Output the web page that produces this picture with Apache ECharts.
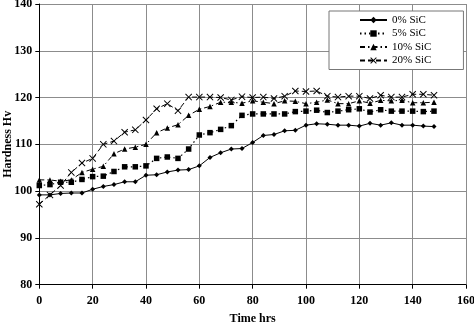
<!DOCTYPE html>
<html><head><meta charset="utf-8">
<script src="https://cdn.jsdelivr.net/npm/echarts@6/dist/echarts.min.js"></script>
<style>html,body{margin:0;padding:0;background:#fff}#c{width:474px;height:322px}</style>
</head><body><div id="c"></div>
<script>
var times = [0,4,8,12,16,20,24,28,32,36,40,44,48,52,56,60,64,68,72,76,80,84,88,92,96,100,104,108,112,116,120,124,128,132,136,140,144,148];
var hv0 = [99.2,99.2,99.5,99.6,99.6,100.4,101.0,101.4,102.0,102.0,103.4,103.5,104.1,104.5,104.6,105.4,107.2,108.2,109.0,109.1,110.4,111.9,112.1,112.9,113.0,114.1,114.4,114.3,114.1,114.1,113.9,114.5,114.1,114.6,114.1,114.1,113.9,113.8];
var hv5 = [101.2,101.4,101.9,101.9,102.5,103.1,103.2,104.2,105.2,105.2,105.4,107.0,107.3,107.0,109.0,112.0,112.5,113.2,114.0,116.2,116.5,116.5,116.5,116.5,117.0,117.1,117.3,116.8,117.1,117.4,117.6,116.9,117.4,117.1,117.1,117.1,117.0,117.1];
var hv10 = [102.4,102.4,102.1,102.4,104.0,104.7,105.3,108.0,109.0,109.4,110.0,112.5,113.5,114.2,116.2,117.5,118.1,119.0,119.0,118.8,119.3,119.0,118.7,119.3,119.2,118.7,119.0,119.5,118.7,118.7,119.3,118.8,119.4,119.3,119.4,118.9,118.9,119.0];
var hv20 = [97.2,99.2,101.2,104.0,106.0,107.0,110.0,110.7,112.6,113.1,115.2,117.6,118.7,117.2,120.1,120.1,120.1,120.0,119.5,120.2,120.0,120.1,119.8,120.3,121.4,121.3,121.4,120.3,120.1,120.3,120.3,119.8,120.5,120.1,120.1,120.7,120.7,120.5];
var names = ['0% SiC','5% SiC','10% SiC','20% SiC'];

function pairs(v){ return times.map(function(t,i){ return [t, v[i]]; }); }
var xSym = 'path://M1,0L5,4L9,0L10,1L6,5L10,9L9,10L5,6L1,10L0,9L4,5L0,1Z';
var font = '"Liberation Serif","Times New Roman",serif';

var chart = echarts.init(document.getElementById('c'), null, {renderer:'canvas'});
chart.setOption({
  animation:false,
  textStyle:{fontFamily:font},
  grid:{left:39.3, right:8, top:4, bottom:37.3, containLabel:false, outerBoundsMode:'none'},
  legend:{
    orient:'vertical', left:329, top:11,
    backgroundColor:'#fff', borderColor:'#777', borderWidth:1,
    padding:[3,32,3,30], itemGap:1.5, itemWidth:27, itemHeight:8,
    textStyle:{fontFamily:font, fontSize:11, color:'#000', lineHeight:12},
    data:names
  },
  xAxis:{
    type:'value', min:0, max:160, interval:20,
    name:'Time hrs', nameLocation:'middle', nameGap:28, nameMoveOverlap:false,
    nameTextStyle:{fontFamily:font, fontSize:12, fontWeight:'bold', color:'#000'},
    axisLine:{lineStyle:{color:'#000', width:1}},
    axisTick:{show:true, inside:false, length:4, lineStyle:{color:'#000'}},
    axisLabel:{fontFamily:font, fontSize:12, fontWeight:'bold', color:'#000', margin:10},
    splitLine:{show:true, lineStyle:{color:'#8c8c8c', width:1}}
  },
  yAxis:{
    type:'value', min:80, max:140, interval:10,
    name:'Hardness Hv', nameLocation:'middle', nameGap:25, nameRotate:90, nameMoveOverlap:false,
    nameTextStyle:{fontFamily:font, fontSize:12, fontWeight:'bold', color:'#000'},
    axisLine:{show:true, lineStyle:{color:'#000', width:1}},
    axisTick:{show:true, inside:false, length:4, lineStyle:{color:'#000'}},
    axisLabel:{fontFamily:font, fontSize:12, fontWeight:'bold', color:'#000', margin:7},
    splitLine:{show:true, lineStyle:{color:'#8c8c8c', width:1}}
  },
  series:[
    {name:names[0], type:'line', data:pairs(hv0), symbol:'diamond', symbolSize:5,
     lineStyle:{color:'#000', width:1, type:'solid'}, itemStyle:{color:'#000'}},
    {name:names[1], type:'line', data:pairs(hv5), symbol:'rect', symbolSize:5.5,
     lineStyle:{color:'#000', width:1.2, type:[1.5,3]}, itemStyle:{color:'#000'}},
    {name:names[2], type:'line', data:pairs(hv10), symbol:'triangle', symbolSize:5.5,
     lineStyle:{color:'#000', width:1, type:[5,3,1.5,3]}, itemStyle:{color:'#000'}},
    {name:names[3], type:'line', data:pairs(hv20), symbol:xSym, symbolSize:7,
     lineStyle:{color:'#000', width:1, type:[5,3]}, itemStyle:{color:'#000'}}
  ]
});
</script></body></html>
